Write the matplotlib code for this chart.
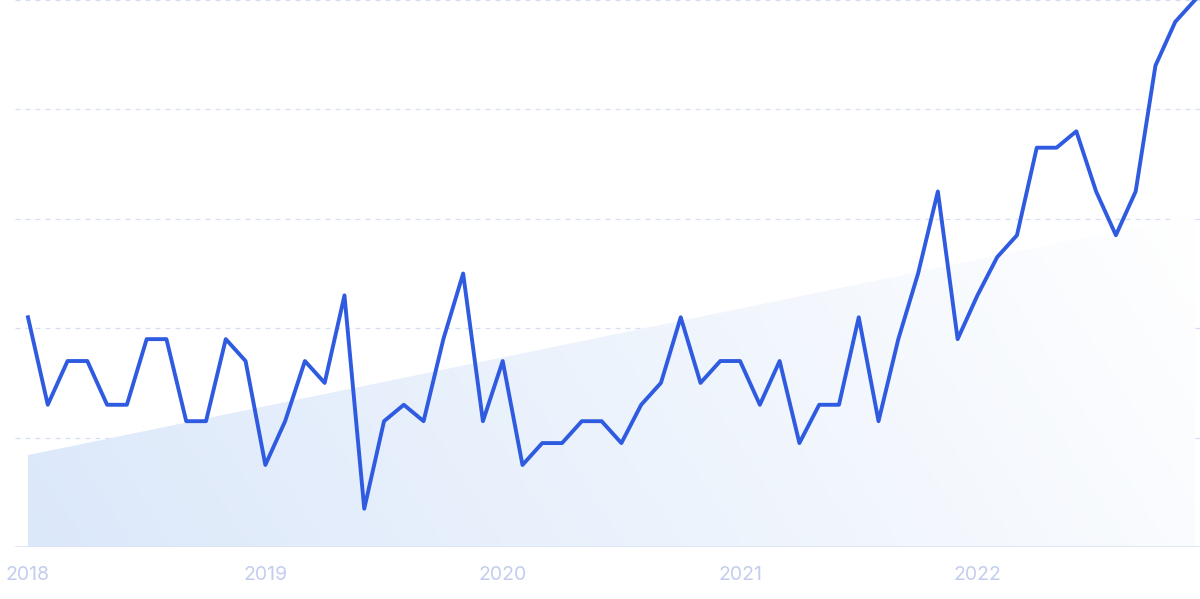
import matplotlib
matplotlib.use("Agg")
import matplotlib.pyplot as plt
import numpy as np
from matplotlib.patches import Polygon

values = [42,26,34,34,26,26,38,38,23,23,38,34,
          15,23,34,30,46,7,23,26,23,38,50,23,
          34,15,19,19,23,23,19,26,30,42,30,34,
          34,26,34,19,26,26,42,23,38,50,65,38,
          46,53,57,73,73,76,65,57,65,88,96,100]
trend_start, trend_end = 16.8, 60.7
year_labels = ["2018", "2019", "2020", "2021", "2022"]

fig = plt.figure(figsize=(12, 5.99), dpi=100)
ax = fig.add_axes([15/1200, 52/599, 1185/1200, 547/599])
n = len(values)
x = np.arange(n)
ax.set_xlim(-13/19.8, n - 1 + 5/19.8)
ax.set_ylim(0, 100)

# gradient trend area
poly = Polygon([(0, 0), (0, trend_start), (n - 1, trend_end), (n - 1, 0)], closed=True,
               facecolor='none', edgecolor='none')
ax.add_patch(poly)
gx, gy = np.meshgrid(np.linspace(0, 1, 200), np.linspace(0, 1, 100))
t = np.clip(gx * 0.85 + (gy) * 0.15, 0, 1)
c0 = np.array([0.86, 0.91, 0.98]); c1 = np.array([1.0, 1.0, 1.0])
img = c0[None, None, :] * (1 - t[..., None]) + c1[None, None, :] * t[..., None]
im = ax.imshow(img, extent=[0, n - 1, 0, trend_end], origin='lower', aspect='auto', zorder=1)
im.set_clip_path(poly)

for yv in [20, 40, 60, 80, 100]:
    ax.axhline(yv, color='#d5def5', lw=0.9, ls=(0, (4, 4)), zorder=0.5)
ax.axhline(0, color='#dbe3f5', lw=1.2, zorder=2)

ax.plot(x, values, color='#2f5be0', lw=2.8, zorder=3, solid_joinstyle='round', clip_on=False)

for s in ax.spines.values():
    s.set_visible(False)
ax.set_yticks([])
ax.set_xticks([0, 12, 24, 36, 48])
ax.set_xticklabels(year_labels, color='#c3cdee', fontsize=14, fontfamily='Inter')
ax.tick_params(axis='x', length=0, pad=14)
fig.savefig("out.png", dpi=100)
